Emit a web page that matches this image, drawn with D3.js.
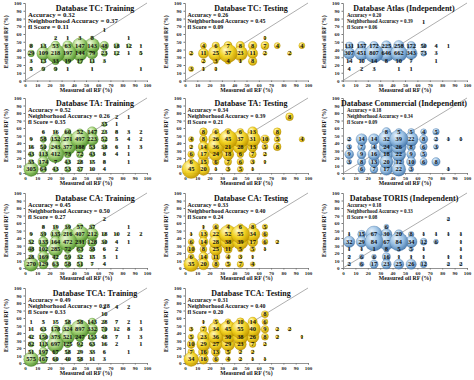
<!DOCTYPE html>
<html><head><meta charset="utf-8">
<script src="https://cdn.jsdelivr.net/npm/d3@7"></script>
<style>body{margin:0;background:#fff}svg{display:block}</style>
</head><body>
<script>
// ---- data: [measured bin, estimated bin, count] ----
const tcTraining = [[25,55,2],[35,55,1],[45,55,3],[55,55,8],[65,65,1],[85,55,1],
 [5,45,8],[15,45,13],[25,45,53],[35,45,63],[45,45,147],[55,45,143],[65,45,48],[75,45,18],[85,45,12],[95,45,1],
 [5,35,29],[15,35,109],[25,35,218],[35,35,197],[45,35,144],[55,35,79],[65,35,23],[75,35,12],[85,35,1],[95,35,5],
 [5,25,3],[15,25,13],[25,25,33],[35,25,19],[45,25,17],[55,25,11],[65,25,3],
 [5,15,5],[15,15,9],[25,15,9],[35,15,1],[55,15,1],[95,15,1]];
const tcTesting = [[65,55,1],
 [15,45,4],[25,45,6],[35,45,7],[45,45,8],[55,45,8],[65,45,7],[75,45,4],[95,45,4],
 [5,35,2],[15,35,11],[25,35,25],[35,35,37],[45,35,23],[55,35,11],[65,35,2],[85,35,2],
 [15,25,2],[25,25,3],[35,25,4],[45,25,1],[55,25,8],
 [5,15,3],[15,15,1],[25,15,1]];
const atlas = [[65,75,1],
 [5,45,131],[15,45,157],[25,45,172],[35,45,225],[45,45,258],[55,45,172],[65,45,50],[75,45,4],[85,45,1],
 [5,35,307],[15,35,451],[25,35,807],[35,35,646],[45,35,662],[55,35,343],[65,35,73],[75,35,3],
 [5,25,14],[15,25,10],[25,25,14],[35,25,8],[45,25,10],[55,25,7],[75,25,1],
 [5,15,4],[15,15,2],[25,15,3],[45,15,1],[55,15,1]];
const taTraining = [[75,75,2],[85,75,1],[65,65,35],[75,65,1],
 [15,55,6],[25,55,16],[35,55,60],[45,55,52],[55,55,147],[65,55,23],[75,55,8],[85,55,3],[95,55,2],
 [5,45,9],[15,45,58],[25,45,152],[35,45,271],[45,45,497],[55,45,223],[65,45,52],[75,45,5],[85,45,4],[95,45,2],
 [5,35,16],[15,35,50],[25,35,243],[35,35,377],[45,35,188],[55,35,53],[65,35,38],[75,35,6],[85,35,1],[95,35,3],
 [5,25,43],[15,25,113],[25,25,412],[35,25,73],[45,25,72],[55,25,43],[65,25,8],[75,25,4],[85,25,1],
 [5,15,35],[15,15,174],[25,15,7],[35,15,43],[45,15,28],[55,15,15],[65,15,8],[85,15,1],
 [5,5,305],[15,5,64],[25,5,43],[35,5,53],[45,5,37],[55,5,10],[65,5,4]];
const taTesting = [[85,75,8],
 [15,55,8],[25,55,6],[35,55,6],[45,55,6],[55,55,13],[75,55,8],
 [5,45,4],[15,45,8],[25,45,26],[35,45,45],[45,45,37],[55,45,31],[65,45,10],[75,45,5],[95,45,4],
 [5,35,2],[15,35,14],[25,35,36],[35,35,21],[45,35,28],[55,35,13],[65,35,5],[75,35,8],
 [5,25,6],[15,25,17],[25,25,24],[35,25,18],[45,25,6],[55,25,7],[65,25,2],
 [5,15,6],[15,15,15],[25,15,6],[35,15,7],[45,15,6],[55,15,3],[65,15,1],
 [5,5,45],[15,5,20],[25,5,1],[35,5,3],[45,5,5],[55,5,1]];
const commercial = [[35,55,8],[45,55,5],[55,55,5],[65,55,4],[75,55,5],
 [5,45,2],[15,45,14],[25,45,14],[35,45,32],[45,45,39],[55,45,22],[65,45,8],[75,45,2],[85,45,1],[95,45,1],
 [5,35,3],[15,35,7],[25,35,4],[35,35,24],[45,35,26],[55,35,8],[65,35,6],[75,35,3],
 [5,25,9],[15,25,9],[25,25,16],[35,25,18],[45,25,22],[55,25,9],[65,25,5],
 [5,15,3],[15,15,8],[25,15,13],[35,15,20],[45,15,12],[55,15,10],[65,15,6],[75,15,8],
 [15,5,6],[25,5,7],[35,5,17],[45,5,22],[55,5,3],[85,5,1]];
const caTraining = [[65,65,2],
 [15,55,8],[25,55,19],[35,55,39],[45,55,57],[55,55,37],[85,55,1],
 [5,45,9],[15,45,39],[25,45,135],[35,45,216],[45,45,407],[55,45,212],[65,45,18],[75,45,10],[85,45,2],[95,45,2],
 [5,35,32],[15,35,135],[25,35,164],[35,35,472],[45,35,231],[55,35,128],[65,35,30],[75,35,4],[85,35,1],
 [5,25,48],[15,25,102],[25,25,285],[35,25,72],[45,25,63],[55,25,38],[65,25,6],[75,25,2],
 [5,15,28],[15,15,169],[25,15,42],[35,15,59],[45,15,32],[55,15,15],[65,15,5],[75,15,1],
 [5,5,270],[15,5,129],[25,5,63],[35,5,58],[45,5,51],[55,5,7],[65,5,4]];
const caTesting = [
 [15,55,1],[25,55,6],[35,55,4],[45,55,6],[55,55,8],[65,55,5],
 [5,45,1],[15,45,13],[25,45,22],[35,45,52],[45,45,55],[55,45,34],[65,45,6],
 [5,35,6],[15,35,14],[25,35,28],[35,35,38],[45,35,39],[55,35,17],[65,35,6],[75,35,2],
 [5,25,10],[15,25,8],[25,25,25],[35,25,11],[45,25,5],[55,25,5],[65,25,1],
 [5,15,6],[15,15,14],[25,15,11],[35,15,4],[45,15,3],[55,15,1],
 [5,5,35],[15,5,20],[25,5,8],[35,5,5],[45,5,7],[55,5,4]];
const toris = [[85,65,2],[35,55,6],
 [5,45,1],[15,45,15],[25,45,67],[35,45,30],[45,45,20],[55,45,8],[65,45,1],[75,45,1],[85,45,1],[95,45,1],
 [5,35,32],[15,35,29],[25,35,84],[35,35,67],[45,35,84],[55,35,34],[65,35,12],[75,35,6],[95,35,1],
 [5,25,1],[15,25,1],[25,25,1],[35,25,8],[45,25,5],[55,25,5],[65,25,1],[95,25,1],
 [5,15,2],[15,15,6],[25,15,6],[35,15,16],[45,15,1],[55,15,1],[65,15,1],[85,15,1],[95,15,1],
 [5,5,2],[15,5,6],[25,5,17],[35,5,23],[45,5,25],[55,5,26],[65,5,12],[85,5,2],[95,5,2]];
const tcaTraining = [[65,75,2],[75,75,4],[85,75,2],[65,65,10],
 [5,55,1],[15,55,5],[25,55,15],[35,55,58],[45,55,58],[55,55,143],[65,55,28],[75,55,7],[85,55,2],[95,55,1],
 [5,45,11],[15,45,63],[25,45,178],[35,45,324],[45,45,897],[55,45,332],[65,45,70],[75,45,12],[85,45,8],[95,45,3],
 [5,35,42],[15,35,150],[25,35,373],[35,35,521],[45,35,247],[55,35,153],[65,35,48],[75,35,7],[85,35,1],[95,35,3],
 [5,25,82],[15,25,113],[25,25,697],[35,25,125],[45,25,92],[55,25,63],[65,25,16],[75,25,2],[95,25,1],
 [5,15,51],[15,15,197],[25,15,67],[35,15,58],[45,15,29],[55,15,33],[65,15,6],[85,15,1],
 [5,5,575],[15,5,167],[25,5,60],[35,5,40],[45,5,58],[55,5,11],[65,5,3]];
const tcaTesting = [[65,65,8],
 [15,55,1],[25,55,5],[35,55,6],[45,55,10],[55,55,14],[65,55,6],
 [5,45,3],[15,45,7],[25,45,34],[35,45,45],[45,45,55],[55,45,40],[65,45,9],[75,45,2],[85,45,2],
 [5,35,5],[15,35,23],[25,35,36],[35,35,30],[45,35,38],[55,35,26],[65,35,8],[75,35,2],[95,35,1],
 [5,25,10],[15,25,29],[25,25,27],[35,25,29],[45,25,23],[55,25,7],[65,25,2],
 [5,15,7],[15,15,16],[25,15,13],[35,15,5],[45,15,2],[55,15,2],
 [5,5,34],[15,5,16],[25,5,6],[35,5,4],[45,5,2],[55,5,1],[65,5,1]];

const titles = ["Database TC: Training","Database TC: Testing","Database Atlas (Independent)",
 "Database TA: Training","Database TA: Testing","Database Commercial (Independent)",
 "Database CA: Training","Database CA: Testing","Database TORIS (Independent)",
 "Database TCA: Training","Database TCA: Testing"];
const accuracy = ["0.32","0.26","0.20","0.52","0.34","0.18","0.45","0.33","0.18","0.49","0.31"];
const neighborhood = ["0.37","0.45","0.39","0.26","0.39","0.34","0.50","0.40","0.33","0.28","0.40"];
const f1 = ["0.11","0.09","0.06","0.35","0.21","0.09","0.27","0.24","0.08","0.33","0.20"];
const panelData = [tcTraining,tcTesting,atlas,taTraining,taTesting,commercial,caTraining,caTesting,toris,tcaTraining,tcaTesting];
const ticks = [0,10,20,30,40,50,60,70,80,90,100];
const xLabel = "Measured oil RF (%)", yLabel = "Estimated oil RF (%)";

// ---- layout ----
const W=474,H=380;
const cols=[{x0:25,x1:147,tc:95,sx:3,nw:82},{x0:185,x1:308,tc:251,sx:2.5,nw:78},{x0:343,x1:467,tc:404,sx:4,nw:66}];
const rows=[{y0:3,y1:80.5},{y0:98,y1:173},{y0:193,y1:268},{y0:288,y1:363}];
const palettes=[
 {hi:"#eef8dc",mid:"#9fd070",lo:"#4f8f2a",st:"#4a8428"},
 {hi:"#fff9c8",mid:"#f2d21e",lo:"#c49a00",st:"#aa8500"},
 {hi:"#e6f1fb",mid:"#98c0e4",lo:"#497cb0",st:"#3d6b9a"}];
const font="'Liberation Serif','Times New Roman',serif";

const svg=d3.select("body").append("svg").attr("width",W).attr("height",H);
const defs=svg.append("defs");
palettes.forEach((p,i)=>{
  const g=defs.append("radialGradient").attr("id","g"+i).attr("cx","40%").attr("cy","35%").attr("r","65%").attr("fx","35%").attr("fy","30%");
  g.append("stop").attr("offset","0%").attr("stop-color",p.hi);
  g.append("stop").attr("offset","55%").attr("stop-color",p.mid);
  g.append("stop").attr("offset","100%").attr("stop-color",p.lo);
});

panelData.forEach((data,i)=>{
  const c=cols[i%3], r=rows[Math.floor(i/3)], pi=i%3;
  const x=d3.scaleLinear().domain([0,100]).range([c.x0,c.x1]);
  const y=d3.scaleLinear().domain([0,100]).range([r.y1,r.y0]);
  const g=svg.append("g");
  const xa=g.append("g").attr("transform",`translate(0,${r.y1})`)
    .call(d3.axisBottom(x).tickValues(ticks).tickSize(1.5).tickPadding(1.5));
  const ya=g.append("g").attr("transform",`translate(${c.x0},0)`)
    .call(d3.axisLeft(y).tickValues(ticks).tickSize(1.5).tickPadding(2));
  [xa,ya].forEach(a=>{
    a.select(".domain").attr("stroke","#777").attr("stroke-width",0.8);
    a.selectAll(".tick line").attr("stroke","#777");
    a.selectAll("text").attr("font-family",font).attr("font-weight","bold").attr("font-size",5).attr("fill","#222");
  });
  // diagonal 1:1 line
  g.append("line").attr("x1",x(0)).attr("y1",y(0)).attr("x2",x(100)).attr("y2",y(100))
    .attr("stroke","#999").attr("stroke-width",0.8);
  const max=d3.max(data,d=>d[2]);
  const rs=d3.scaleSqrt().domain([0,max]).range([0,9.2]);
  const sorted=data.slice().sort((a,b)=>a[2]-b[2]);
  g.selectAll("circle.b").data(sorted).join("circle")
    .attr("cx",d=>x(d[0])).attr("cy",d=>y(d[1])).attr("r",d=>rs(d[2]))
    .attr("fill",`url(#g${pi})`).attr("stroke",palettes[pi].st).attr("stroke-width",0.3).attr("fill-opacity",0.95);
  g.selectAll("text.n").data(data).join("text")
    .attr("transform",d=>`translate(${x(d[0])},${y(d[1])+2}) scale(1.15,1)`).attr("text-anchor","middle")
    .attr("font-family",font).attr("font-weight","bold").attr("font-size",5.6).attr("fill","#111")
    .text(d=>d[2]);
  // title & stats
  g.append("text").attr("x",c.tc).attr("y",r.y0+7.5).attr("text-anchor","middle")
    .attr("font-family",font).attr("font-weight","bold").attr("font-size",8).attr("fill","#111").text(titles[i]);
  const st=[`Accuracy = ${accuracy[i]}`,`Neighborhood Accuracy = ${neighborhood[i]}`,`fl Score = ${f1[i]}`];
  const stTexts=st.map((s,k)=>g.append("text")
    .attr("font-family",font).attr("font-weight","bold").attr("font-size",5.8).attr("fill","#111").text(s));
  const natural=stTexts[1].node().getComputedTextLength();
  const sc=(i===0?90:c.nw)/natural;
  stTexts.forEach((t,k)=>t.attr("transform",`translate(${c.x0+c.sx},${r.y0+13.5+k*6.3}) scale(${sc},1)`));
  // axis titles
  g.append("text").attr("x",(c.x0+c.x1)/2).attr("y",r.y1+11.5).attr("text-anchor","middle")
    .attr("font-family",font).attr("font-weight","bold").attr("font-size",5.8).attr("fill","#111").text(xLabel);
  g.append("text").attr("transform",`translate(${c.x0-17},${(r.y0+r.y1)/2}) rotate(-90)`).attr("text-anchor","middle")
    .attr("font-family",font).attr("font-weight","bold").attr("font-size",5.8).attr("fill","#111").text(yLabel);
});
</script>
</body></html>
